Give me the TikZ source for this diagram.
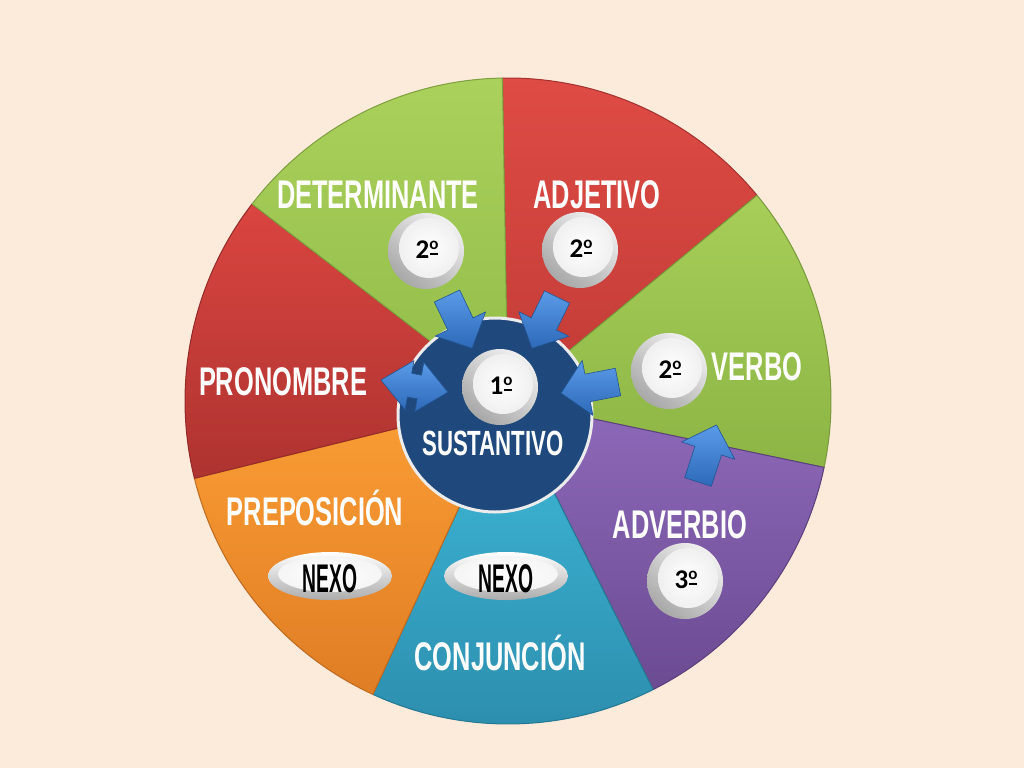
\documentclass[tikz,border=0pt]{standalone}
\usepackage{fontspec}
\usepackage{graphicx}
\usetikzlibrary{shadings}
\newfontfamily\agency[FakeStretch=0.635]{Liberation Sans}
\newfontfamily\calib{Carlito}
\newcommand\myord{\hbox{\raisebox{9pt}{\fontsize{17}{17}\selectfont o}\llap{\rule[4pt]{8.5pt}{1.8pt}}}}
\definecolor{bg}{HTML}{FCEADB}
\definecolor{adjT}{HTML}{DF4B45}\definecolor{adjB}{HTML}{C13B36}
\definecolor{verbT}{HTML}{A6CE58}\definecolor{verbB}{HTML}{8DB545}
\definecolor{advT}{HTML}{8E69BA}\definecolor{advB}{HTML}{6B4B92}
\definecolor{conjT}{HTML}{3FBADA}\definecolor{conjB}{HTML}{2C8DAD}
\definecolor{prepT}{HTML}{FB9E35}\definecolor{prepB}{HTML}{DF7D24}
\definecolor{pronT}{HTML}{DA4540}\definecolor{pronB}{HTML}{AE3330}
\definecolor{detT}{HTML}{A9D15B}\definecolor{detB}{HTML}{93BB49}
\definecolor{hubc}{HTML}{1F497D}
\definecolor{arrT}{HTML}{5A9BE8}\definecolor{arrB}{HTML}{2D69B8}\definecolor{arrD}{HTML}{225493}
\tikzset{
  lbl/.style={text=white, font=\agency\bfseries\fontsize{40}{40}\selectfont, inner sep=0pt, anchor=base},
  medtxt/.style={text=black, font=\calib\bfseries\fontsize{27}{27}\selectfont, inner sep=0pt},
  arrowsty/.style={top color=arrT, bottom color=arrB, draw=arrD, line width=0.6pt, line join=round},
  ringsty/.style={upper right=white, upper left=gray!35, lower right=gray!45, lower left=gray!80},
}
\newcommand\blockarrow[5]{%
  \begin{scope}[shift={(#2,#3)},rotate={0-(#4)}]
    \coordinate (#1) at (#5,0);
    \shade[arrowsty] (0,-14) -- (#5-27,-14) -- (#5-27,-28) -- (#5,0) -- (#5-27,28) -- (#5-27,14) -- (0,14) -- cycle;
  \end{scope}}
\newcommand\mymedal[4]{%
  \shade[ringsty] (#2,#3) circle[radius=38];
  \shade[inner color=white, outer color=gray!12] (#2+3,#3-3) circle[radius=30];
  \node[medtxt] (#1) at (#2+1,#3-1) {#4\myord};}
\newcommand\mynexo[3]{%
  \shade[top color=white, bottom color=gray!65] (#2,#3) ellipse[x radius=62, y radius=24];
  \shade[inner color=white, outer color=gray!8] (#2,#3-2) ellipse[x radius=52, y radius=18];
  \node[lbl, text=black] (#1) at (#2,#3+16) {\scalebox{0.76}[1]{NEXO}};}
\begin{document}
\begin{tikzpicture}[x=1pt,y=-1pt]
\useasboundingbox (0,0) rectangle (1024,768);
\fill[bg] (0,0) rectangle (1024,768);
\coordinate (C) at (508,401);
\foreach \a/\c in {-91/adj, -39.57/verb, 11.86/adv, 63.29/conj, 114.72/prep, 166.15/pron, 217.58/det}{
  \shade[top color=\c T, bottom color=\c B, draw=\c B!85!black, line width=1pt, line join=round]
    (C) -- ++(\a:323) arc[start angle=\a, end angle=\a+51.43, radius=323] -- cycle;
}
\node[circle, minimum size=194pt, inner sep=0pt, fill=hubc, draw=gray!15, line width=3pt] (hub) at (495,415) {};
% medallions
\mymedal{m1}{500}{387}{1}
\mymedal{mdet}{426}{251}{2}
\mymedal{madj}{580}{250}{2}
\mymedal{mverb}{669}{371}{2}
\mymedal{madv}{685}{581}{3}
% nexo
\mynexo{nprep}{330}{576}
\mynexo{nconj}{506}{576}
% arrows
\blockarrow{a1}{447}{296}{64.4}{58}
\blockarrow{a2}{557}{297}{116}{57}
\blockarrow{a4}{618}{382}{169}{58}
\blockarrow{a5}{698}{482}{-72}{60}
\begin{scope}[shift={(381,380)},rotate=-10.3]
  \coordinate (a3) at (0,0);
  \shade[arrowsty] (0,0) -- (29,-25) -- (29,-12) -- (39,-12) -- (39,-25) -- (68,0) -- (39,25) -- (39,12) -- (29,12) -- (29,25) -- cycle;
\end{scope}
% labels
\node[lbl] (det) at (378,208) {DETERMINANTE};
\node[lbl] (adj) at (597,208) {ADJETIVO};
\node[lbl] (verb) at (757,380) {VERBO};
\node[lbl] (pron) at (283,395) {PRONOMBRE};
\node[lbl] (prep) at (315,525) {PREPOSICIÓN};
\node[lbl] (conj) at (500,670) {CONJUNCIÓN};
\node[lbl] (adv) at (680,538) {ADVERBIO};
\node[lbl, font=\agency\bfseries\fontsize{35}{35}\selectfont] (sust) at (493,455) {SUSTANTIVO};
\end{tikzpicture}
\end{document}
